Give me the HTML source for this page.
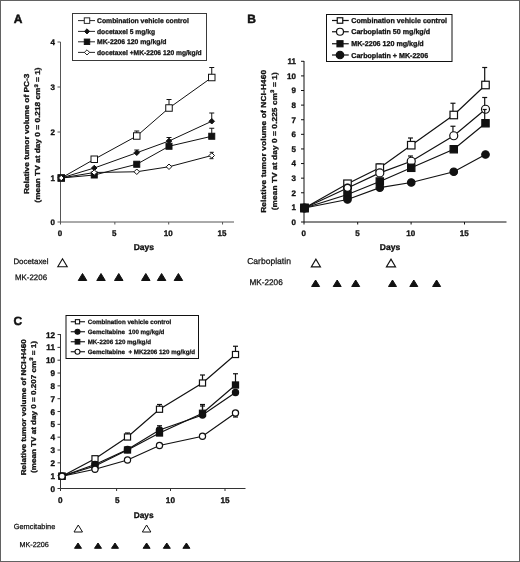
<!DOCTYPE html>
<html><head><meta charset="utf-8"><title>Figure</title>
<style>html,body{margin:0;padding:0;background:#fff}svg{display:block}text{font-family:"Liberation Sans",sans-serif;fill:#111;text-rendering:geometricPrecision}</style>
</head><body>
<svg width="520" height="562" viewBox="0 0 520 562">
<rect x="0" y="0" width="520" height="562" fill="#fff"/>
<rect x="0.5" y="0.5" width="519" height="561" fill="none" stroke="#626262" stroke-width="1"/>
<text x="13.7" y="22.8" font-size="12" font-weight="bold" text-anchor="start" stroke="#111" stroke-width="0.48">A</text>
<line x1="60.5" y1="42" x2="60.5" y2="222" stroke="#555" stroke-width="1"/>
<line x1="60.5" y1="222" x2="234" y2="222" stroke="#555" stroke-width="1"/>
<line x1="57.5" y1="222" x2="60.5" y2="222" stroke="#555" stroke-width="1"/>
<text x="55" y="224.9" font-size="8" font-weight="bold" text-anchor="end" stroke="#111" stroke-width="0.32">0</text>
<line x1="57.5" y1="177.7" x2="60.5" y2="177.7" stroke="#555" stroke-width="1"/>
<text x="55" y="180.6" font-size="8" font-weight="bold" text-anchor="end" stroke="#111" stroke-width="0.32">1</text>
<line x1="57.5" y1="132" x2="60.5" y2="132" stroke="#555" stroke-width="1"/>
<text x="55" y="134.9" font-size="8" font-weight="bold" text-anchor="end" stroke="#111" stroke-width="0.32">2</text>
<line x1="57.5" y1="87" x2="60.5" y2="87" stroke="#555" stroke-width="1"/>
<text x="55" y="89.9" font-size="8" font-weight="bold" text-anchor="end" stroke="#111" stroke-width="0.32">3</text>
<line x1="57.5" y1="42" x2="60.5" y2="42" stroke="#555" stroke-width="1"/>
<text x="55" y="44.9" font-size="8" font-weight="bold" text-anchor="end" stroke="#111" stroke-width="0.32">4</text>
<line x1="60.5" y1="222" x2="60.5" y2="224.5" stroke="#555" stroke-width="1"/>
<text x="60.0" y="236" font-size="8" font-weight="bold" text-anchor="middle" stroke="#111" stroke-width="0.32">0</text>
<line x1="114.85" y1="222" x2="114.85" y2="224.5" stroke="#555" stroke-width="1"/>
<text x="114.35" y="236" font-size="8" font-weight="bold" text-anchor="middle" stroke="#111" stroke-width="0.32">5</text>
<line x1="168.7" y1="222" x2="168.7" y2="224.5" stroke="#555" stroke-width="1"/>
<text x="168.2" y="236" font-size="8" font-weight="bold" text-anchor="middle" stroke="#111" stroke-width="0.32">10</text>
<line x1="222.54999999999998" y1="222" x2="222.54999999999998" y2="224.5" stroke="#555" stroke-width="1"/>
<text x="222.04999999999998" y="236" font-size="8" font-weight="bold" text-anchor="middle" stroke="#111" stroke-width="0.32">15</text>
<text x="143.9" y="250.2" font-size="8.5" font-weight="bold" text-anchor="middle" stroke="#111" stroke-width="0.34">Days</text>
<text transform="translate(29.4,133.8) rotate(-90) scale(1,0.87)" font-size="8.3" font-weight="bold" stroke="#111" stroke-width="0.35" textLength="120.5" lengthAdjust="spacing" text-anchor="middle">Relative tumor volume of PC-3</text>
<text transform="translate(40.4,135) rotate(-90) scale(1,0.87)" font-size="8.3" font-weight="bold" stroke="#111" stroke-width="0.35" text-anchor="middle">(mean TV at day 0 = 0.218 cm<tspan dy="-3" font-size="6">3</tspan><tspan dy="3"> = 1)</tspan></text>
<line x1="136.75" y1="136" x2="136.75" y2="131" stroke="#111" stroke-width="1"/>
<line x1="134.25" y1="131" x2="139.25" y2="131" stroke="#111" stroke-width="1"/>
<line x1="169" y1="108" x2="169" y2="99.5" stroke="#111" stroke-width="1"/>
<line x1="166.5" y1="99.5" x2="171.5" y2="99.5" stroke="#111" stroke-width="1"/>
<line x1="211.75" y1="77.5" x2="211.75" y2="67.5" stroke="#111" stroke-width="1"/>
<line x1="209.25" y1="67.5" x2="214.25" y2="67.5" stroke="#111" stroke-width="1"/>
<polyline points="61.25,178 94.25,159.25 136.75,136 169,108 211.75,77.5" fill="none" stroke="#111" stroke-width="1"/>
<rect x="58.0" y="174.75" width="6.5" height="6.5" fill="#fff" stroke="#111" stroke-width="1"/>
<rect x="91.0" y="156.0" width="6.5" height="6.5" fill="#fff" stroke="#111" stroke-width="1"/>
<rect x="133.5" y="132.75" width="6.5" height="6.5" fill="#fff" stroke="#111" stroke-width="1"/>
<rect x="165.75" y="104.75" width="6.5" height="6.5" fill="#fff" stroke="#111" stroke-width="1"/>
<rect x="208.5" y="74.25" width="6.5" height="6.5" fill="#fff" stroke="#111" stroke-width="1"/>
<line x1="136.75" y1="152.75" x2="136.75" y2="150" stroke="#111" stroke-width="1"/>
<line x1="134.25" y1="150" x2="139.25" y2="150" stroke="#111" stroke-width="1"/>
<line x1="169" y1="141" x2="169" y2="137.5" stroke="#111" stroke-width="1"/>
<line x1="166.5" y1="137.5" x2="171.5" y2="137.5" stroke="#111" stroke-width="1"/>
<line x1="211.75" y1="121.25" x2="211.75" y2="113" stroke="#111" stroke-width="1"/>
<line x1="209.25" y1="113" x2="214.25" y2="113" stroke="#111" stroke-width="1"/>
<polyline points="61.25,178 94.25,168 136.75,152.75 169,141 211.75,121.25" fill="none" stroke="#111" stroke-width="1"/>
<polygon points="58.5,178 61.25,175.25 64.0,178 61.25,180.75" fill="#111" stroke="#111" stroke-width="1"/>
<polygon points="91.5,168 94.25,165.25 97.0,168 94.25,170.75" fill="#111" stroke="#111" stroke-width="1"/>
<polygon points="134.0,152.75 136.75,150.0 139.5,152.75 136.75,155.5" fill="#111" stroke="#111" stroke-width="1"/>
<polygon points="166.25,141 169,138.25 171.75,141 169,143.75" fill="#111" stroke="#111" stroke-width="1"/>
<polygon points="209.0,121.25 211.75,118.5 214.5,121.25 211.75,124.0" fill="#111" stroke="#111" stroke-width="1"/>
<line x1="211.75" y1="136.25" x2="211.75" y2="128.25" stroke="#111" stroke-width="1"/>
<line x1="209.25" y1="128.25" x2="214.25" y2="128.25" stroke="#111" stroke-width="1"/>
<polyline points="61.25,178 94.25,175 136.75,164.25 169,146.25 211.75,136.25" fill="none" stroke="#111" stroke-width="1"/>
<rect x="58.25" y="175.0" width="6" height="6" fill="#111" stroke="#111" stroke-width="1"/>
<rect x="91.25" y="172.0" width="6" height="6" fill="#111" stroke="#111" stroke-width="1"/>
<rect x="133.75" y="161.25" width="6" height="6" fill="#111" stroke="#111" stroke-width="1"/>
<rect x="166.0" y="143.25" width="6" height="6" fill="#111" stroke="#111" stroke-width="1"/>
<rect x="208.75" y="133.25" width="6" height="6" fill="#111" stroke="#111" stroke-width="1"/>
<line x1="211.75" y1="155.5" x2="211.75" y2="152.3" stroke="#111" stroke-width="1"/>
<line x1="209.75" y1="152.3" x2="213.75" y2="152.3" stroke="#111" stroke-width="1"/>
<polyline points="61.25,178 94.25,172.5 136.75,171.75 169,166.75 211.75,155.5" fill="none" stroke="#111" stroke-width="1"/>
<polygon points="58.5,178 61.25,175.25 64.0,178 61.25,180.75" fill="#fff" stroke="#111" stroke-width="1"/>
<polygon points="91.5,172.5 94.25,169.75 97.0,172.5 94.25,175.25" fill="#fff" stroke="#111" stroke-width="1"/>
<polygon points="134.0,171.75 136.75,169.0 139.5,171.75 136.75,174.5" fill="#fff" stroke="#111" stroke-width="1"/>
<polygon points="166.25,166.75 169,164.0 171.75,166.75 169,169.5" fill="#fff" stroke="#111" stroke-width="1"/>
<polygon points="209.0,155.5 211.75,152.75 214.5,155.5 211.75,158.25" fill="#fff" stroke="#111" stroke-width="1"/>
<line x1="209.5" y1="158.7" x2="213.5" y2="158.7" stroke="#111" stroke-width="1"/>
<rect x="72.5" y="13.5" width="134.0" height="47.0" fill="#fff" stroke="#3a3a3a" stroke-width="1"/>
<line x1="78" y1="20.6" x2="95" y2="20.6" stroke="#111" stroke-width="0.9"/>
<rect x="84.25" y="17.85" width="5.5" height="5.5" fill="#fff" stroke="#111" stroke-width="0.9"/>
<text x="97" y="23.0588" font-size="6.83" font-weight="bold" text-anchor="start" stroke="#111" stroke-width="0.27">Combination vehicle control</text>
<line x1="78" y1="31.4" x2="95" y2="31.4" stroke="#111" stroke-width="0.9"/>
<polygon points="84.4,31.4 87,28.799999999999997 89.6,31.4 87,34.0" fill="#111" stroke="#111" stroke-width="0.9"/>
<text x="97" y="33.8588" font-size="6.83" font-weight="bold" text-anchor="start" textLength="58" lengthAdjust="spacingAndGlyphs" stroke="#111" stroke-width="0.27">docetaxel 5 mg/kg</text>
<line x1="78" y1="41.8" x2="95" y2="41.8" stroke="#111" stroke-width="0.9"/>
<rect x="84.25" y="39.05" width="5.5" height="5.5" fill="#111" stroke="#111" stroke-width="0.9"/>
<text x="97" y="44.258799999999994" font-size="6.83" font-weight="bold" text-anchor="start" stroke="#111" stroke-width="0.27">MK-2206 120 mg/kg/d</text>
<line x1="78" y1="52.4" x2="95" y2="52.4" stroke="#111" stroke-width="0.9"/>
<polygon points="84.4,52.4 87,49.8 89.6,52.4 87,55.0" fill="#fff" stroke="#111" stroke-width="0.9"/>
<text x="97" y="54.8588" font-size="6.83" font-weight="bold" text-anchor="start" textLength="104.6" lengthAdjust="spacingAndGlyphs" stroke="#111" stroke-width="0.27">docetaxel +MK-2206 120 mg/kg/d</text>
<text x="13.4" y="264" font-size="7.9" text-anchor="start" stroke="#111" stroke-width="0.25">Docetaxel</text>
<text x="15" y="280.3" font-size="7.9" text-anchor="start" stroke="#111" stroke-width="0.25">MK-2206</text>
<polygon points="57.75,266.8 62.5,258.8 67.25,266.8" fill="#fff" stroke="#111" stroke-width="1.1" stroke-linejoin="miter"/>
<polygon points="78.25,280.5 82.5,273.5 86.75,280.5" fill="#111" stroke="#111" stroke-width="1" stroke-linejoin="miter"/>
<polygon points="96.75,280.5 101,273.5 105.25,280.5" fill="#111" stroke="#111" stroke-width="1" stroke-linejoin="miter"/>
<polygon points="114.5,280.5 118.75,273.5 123.0,280.5" fill="#111" stroke="#111" stroke-width="1" stroke-linejoin="miter"/>
<polygon points="141.55,280.5 145.8,273.5 150.05,280.5" fill="#111" stroke="#111" stroke-width="1" stroke-linejoin="miter"/>
<polygon points="157.35,280.5 161.6,273.5 165.85,280.5" fill="#111" stroke="#111" stroke-width="1" stroke-linejoin="miter"/>
<polygon points="174.15,280.5 178.4,273.5 182.65,280.5" fill="#111" stroke="#111" stroke-width="1" stroke-linejoin="miter"/>
<text x="247.3" y="22.8" font-size="12" font-weight="bold" text-anchor="start" stroke="#111" stroke-width="0.48">B</text>
<line x1="304" y1="61" x2="304" y2="222" stroke="#111" stroke-width="1"/>
<line x1="304" y1="222" x2="506.5" y2="222" stroke="#111" stroke-width="1"/>
<line x1="301" y1="222.0" x2="304" y2="222.0" stroke="#111" stroke-width="1"/>
<text x="296" y="224.9" font-size="8" font-weight="bold" text-anchor="end" stroke="#111" stroke-width="0.32">0</text>
<line x1="301" y1="207.39" x2="304" y2="207.39" stroke="#111" stroke-width="1"/>
<text x="296" y="210.29" font-size="8" font-weight="bold" text-anchor="end" stroke="#111" stroke-width="0.32">1</text>
<line x1="301" y1="192.78" x2="304" y2="192.78" stroke="#111" stroke-width="1"/>
<text x="296" y="195.68" font-size="8" font-weight="bold" text-anchor="end" stroke="#111" stroke-width="0.32">2</text>
<line x1="301" y1="178.17000000000002" x2="304" y2="178.17000000000002" stroke="#111" stroke-width="1"/>
<text x="296" y="181.07000000000002" font-size="8" font-weight="bold" text-anchor="end" stroke="#111" stroke-width="0.32">3</text>
<line x1="301" y1="163.56" x2="304" y2="163.56" stroke="#111" stroke-width="1"/>
<text x="296" y="166.46" font-size="8" font-weight="bold" text-anchor="end" stroke="#111" stroke-width="0.32">4</text>
<line x1="301" y1="148.95" x2="304" y2="148.95" stroke="#111" stroke-width="1"/>
<text x="296" y="151.85" font-size="8" font-weight="bold" text-anchor="end" stroke="#111" stroke-width="0.32">5</text>
<line x1="301" y1="134.34" x2="304" y2="134.34" stroke="#111" stroke-width="1"/>
<text x="296" y="137.24" font-size="8" font-weight="bold" text-anchor="end" stroke="#111" stroke-width="0.32">6</text>
<line x1="301" y1="119.73" x2="304" y2="119.73" stroke="#111" stroke-width="1"/>
<text x="296" y="122.63000000000001" font-size="8" font-weight="bold" text-anchor="end" stroke="#111" stroke-width="0.32">7</text>
<line x1="301" y1="105.12" x2="304" y2="105.12" stroke="#111" stroke-width="1"/>
<text x="296" y="108.02000000000001" font-size="8" font-weight="bold" text-anchor="end" stroke="#111" stroke-width="0.32">8</text>
<line x1="301" y1="90.50999999999999" x2="304" y2="90.50999999999999" stroke="#111" stroke-width="1"/>
<text x="296" y="93.41" font-size="8" font-weight="bold" text-anchor="end" stroke="#111" stroke-width="0.32">9</text>
<line x1="301" y1="75.9" x2="304" y2="75.9" stroke="#111" stroke-width="1"/>
<text x="296" y="78.80000000000001" font-size="8" font-weight="bold" text-anchor="end" stroke="#111" stroke-width="0.32">10</text>
<line x1="301" y1="61.29000000000002" x2="304" y2="61.29000000000002" stroke="#111" stroke-width="1"/>
<text x="296" y="64.19000000000003" font-size="8" font-weight="bold" text-anchor="end" stroke="#111" stroke-width="0.32">11</text>
<line x1="304" y1="222" x2="304" y2="224.5" stroke="#111" stroke-width="1"/>
<text x="303.7" y="236" font-size="8" font-weight="bold" text-anchor="middle" stroke="#111" stroke-width="0.32">0</text>
<line x1="357.7" y1="222" x2="357.7" y2="224.5" stroke="#111" stroke-width="1"/>
<text x="357.4" y="236" font-size="8" font-weight="bold" text-anchor="middle" stroke="#111" stroke-width="0.32">5</text>
<line x1="411.1" y1="222" x2="411.1" y2="224.5" stroke="#111" stroke-width="1"/>
<text x="410.8" y="236" font-size="8" font-weight="bold" text-anchor="middle" stroke="#111" stroke-width="0.32">10</text>
<line x1="464.5" y1="222" x2="464.5" y2="224.5" stroke="#111" stroke-width="1"/>
<text x="464.2" y="236" font-size="8" font-weight="bold" text-anchor="middle" stroke="#111" stroke-width="0.32">15</text>
<text x="390" y="250.4" font-size="8.5" font-weight="bold" text-anchor="middle" stroke="#111" stroke-width="0.34">Days</text>
<text transform="translate(266,141.3) rotate(-90) scale(1,0.87)" font-size="8.3" font-weight="bold" stroke="#111" stroke-width="0.35" textLength="143" lengthAdjust="spacing" text-anchor="middle">Relative tumor volume of NCI-H460</text>
<text transform="translate(276.5,141.3) rotate(-90) scale(1,0.87)" font-size="8.3" font-weight="bold" stroke="#111" stroke-width="0.35" textLength="138" lengthAdjust="spacing" text-anchor="middle">(mean TV at day 0 = 0.225 cm<tspan dy="-3" font-size="6">3</tspan><tspan dy="3"> = 1)</tspan></text>
<line x1="379.0" y1="167.7" x2="379.0" y2="164" stroke="#111" stroke-width="1.2"/>
<line x1="376.5" y1="164" x2="381.5" y2="164" stroke="#111" stroke-width="1.2"/>
<line x1="410.45" y1="145.2" x2="410.45" y2="138" stroke="#111" stroke-width="1.2"/>
<line x1="407.95" y1="138" x2="412.95" y2="138" stroke="#111" stroke-width="1.2"/>
<line x1="452.95" y1="115" x2="452.95" y2="103.25" stroke="#111" stroke-width="1.2"/>
<line x1="450.45" y1="103.25" x2="455.45" y2="103.25" stroke="#111" stroke-width="1.2"/>
<line x1="484.7" y1="85" x2="484.7" y2="67.5" stroke="#111" stroke-width="1.2"/>
<line x1="482.2" y1="67.5" x2="487.2" y2="67.5" stroke="#111" stroke-width="1.2"/>
<polyline points="304.5,208 347.5,183.75 379.8,167.7 411.25,145.2 453.75,115 485.5,85" fill="none" stroke="#111" stroke-width="1.2"/>
<rect x="300.75" y="204.25" width="7.5" height="7.5" fill="#fff" stroke="#111" stroke-width="1.2"/>
<rect x="343.75" y="180.0" width="7.5" height="7.5" fill="#fff" stroke="#111" stroke-width="1.2"/>
<rect x="376.05" y="163.95" width="7.5" height="7.5" fill="#fff" stroke="#111" stroke-width="1.2"/>
<rect x="407.5" y="141.45" width="7.5" height="7.5" fill="#fff" stroke="#111" stroke-width="1.2"/>
<rect x="450.0" y="111.25" width="7.5" height="7.5" fill="#fff" stroke="#111" stroke-width="1.2"/>
<rect x="481.75" y="81.25" width="7.5" height="7.5" fill="#fff" stroke="#111" stroke-width="1.2"/>
<line x1="410.45" y1="161.25" x2="410.45" y2="156" stroke="#111" stroke-width="1.2"/>
<line x1="407.95" y1="156" x2="412.95" y2="156" stroke="#111" stroke-width="1.2"/>
<line x1="452.95" y1="135.75" x2="452.95" y2="126.25" stroke="#111" stroke-width="1.2"/>
<line x1="450.45" y1="126.25" x2="455.45" y2="126.25" stroke="#111" stroke-width="1.2"/>
<line x1="484.7" y1="109.25" x2="484.7" y2="97.5" stroke="#111" stroke-width="1.2"/>
<line x1="482.2" y1="97.5" x2="487.2" y2="97.5" stroke="#111" stroke-width="1.2"/>
<polyline points="304.5,208 347.5,188 379.8,172.9 411.25,161.25 453.75,135.75 485.5,109.25" fill="none" stroke="#111" stroke-width="1.2"/>
<circle cx="304.5" cy="208" r="4.0" fill="#fff" stroke="#111" stroke-width="1.2"/>
<circle cx="347.5" cy="188" r="4.0" fill="#fff" stroke="#111" stroke-width="1.2"/>
<circle cx="379.8" cy="172.9" r="4.0" fill="#fff" stroke="#111" stroke-width="1.2"/>
<circle cx="411.25" cy="161.25" r="4.0" fill="#fff" stroke="#111" stroke-width="1.2"/>
<circle cx="453.75" cy="135.75" r="4.0" fill="#fff" stroke="#111" stroke-width="1.2"/>
<circle cx="485.5" cy="109.25" r="4.0" fill="#fff" stroke="#111" stroke-width="1.2"/>
<line x1="484.7" y1="123.25" x2="484.7" y2="109.5" stroke="#111" stroke-width="1.2"/>
<line x1="482.7" y1="109.5" x2="486.7" y2="109.5" stroke="#111" stroke-width="1.2"/>
<polyline points="304.5,208 347.5,194.5 379.8,181.5 411.25,167.8 453.75,149.25 485.5,123.25" fill="none" stroke="#111" stroke-width="1.2"/>
<rect x="300.85" y="204.35" width="7.3" height="7.3" fill="#111" stroke="#111" stroke-width="1.2"/>
<rect x="343.85" y="190.85" width="7.3" height="7.3" fill="#111" stroke="#111" stroke-width="1.2"/>
<rect x="376.15000000000003" y="177.85" width="7.3" height="7.3" fill="#111" stroke="#111" stroke-width="1.2"/>
<rect x="407.6" y="164.15" width="7.3" height="7.3" fill="#111" stroke="#111" stroke-width="1.2"/>
<rect x="450.1" y="145.6" width="7.3" height="7.3" fill="#111" stroke="#111" stroke-width="1.2"/>
<rect x="481.85" y="119.6" width="7.3" height="7.3" fill="#111" stroke="#111" stroke-width="1.2"/>
<polyline points="304.5,208 347.5,199.5 379.8,187.6 411.25,182.5 453.75,171.75 485.5,154.5" fill="none" stroke="#111" stroke-width="1.2"/>
<circle cx="304.5" cy="208" r="3.75" fill="#111" stroke="#111" stroke-width="1.2"/>
<circle cx="347.5" cy="199.5" r="3.75" fill="#111" stroke="#111" stroke-width="1.2"/>
<circle cx="379.8" cy="187.6" r="3.75" fill="#111" stroke="#111" stroke-width="1.2"/>
<circle cx="411.25" cy="182.5" r="3.75" fill="#111" stroke="#111" stroke-width="1.2"/>
<circle cx="453.75" cy="171.75" r="3.75" fill="#111" stroke="#111" stroke-width="1.2"/>
<circle cx="485.5" cy="154.5" r="3.75" fill="#111" stroke="#111" stroke-width="1.2"/>
<circle cx="347.5" cy="187.8" r="3.5" fill="#fff" stroke="#111" stroke-width="1.2"/>
<rect x="326.5" y="14.5" width="125.5" height="47.0" fill="#fff" stroke="#111" stroke-width="1"/>
<line x1="332" y1="20.5" x2="348.75" y2="20.5" stroke="#111" stroke-width="1.2"/>
<rect x="337.25" y="17.75" width="5.5" height="5.5" fill="#fff" stroke="#111" stroke-width="1.2"/>
<text x="351.25" y="23.0668" font-size="7.13" font-weight="bold" text-anchor="start" stroke="#111" stroke-width="0.29">Combination vehicle control</text>
<line x1="332" y1="31.75" x2="348.75" y2="31.75" stroke="#111" stroke-width="1.2"/>
<circle cx="340" cy="31.75" r="3.5" fill="#fff" stroke="#111" stroke-width="1.2"/>
<text x="351.25" y="34.3168" font-size="7.13" font-weight="bold" text-anchor="start" stroke="#111" stroke-width="0.29">Carboplatin 50 mg/kg/d</text>
<line x1="332" y1="43.75" x2="348.75" y2="43.75" stroke="#111" stroke-width="1.2"/>
<rect x="337.0" y="40.75" width="6" height="6" fill="#111" stroke="#111" stroke-width="1.2"/>
<text x="351.25" y="46.3168" font-size="7.13" font-weight="bold" text-anchor="start" stroke="#111" stroke-width="0.29">MK-2206 120 mg/kg/d</text>
<line x1="332" y1="55" x2="348.75" y2="55" stroke="#111" stroke-width="1.2"/>
<circle cx="340" cy="55" r="3.75" fill="#111" stroke="#111" stroke-width="1.2"/>
<text x="351.25" y="57.5668" font-size="7.13" font-weight="bold" text-anchor="start" stroke="#111" stroke-width="0.29">Carboplatin + MK-2206</text>
<text x="247.2" y="264" font-size="8.55" text-anchor="start" stroke="#111" stroke-width="0.25">Carboplatin</text>
<text x="249.5" y="285" font-size="8.2" text-anchor="start" stroke="#111" stroke-width="0.25">MK-2206</text>
<polygon points="311.4,266.8 315.9,259.2 320.4,266.8" fill="#fff" stroke="#111" stroke-width="1.2" stroke-linejoin="miter"/>
<polygon points="386.5,266.8 391,259.2 395.5,266.8" fill="#fff" stroke="#111" stroke-width="1.2" stroke-linejoin="miter"/>
<polygon points="311.6,286.5 315.6,280 319.6,286.5" fill="#111" stroke="#111" stroke-width="1" stroke-linejoin="miter"/>
<polygon points="333.2,286.5 337.2,280 341.2,286.5" fill="#111" stroke="#111" stroke-width="1" stroke-linejoin="miter"/>
<polygon points="351.7,286.5 355.7,280 359.7,286.5" fill="#111" stroke="#111" stroke-width="1" stroke-linejoin="miter"/>
<polygon points="388.5,286.5 392.5,280 396.5,286.5" fill="#111" stroke="#111" stroke-width="1" stroke-linejoin="miter"/>
<polygon points="409.8,286.5 413.8,280 417.8,286.5" fill="#111" stroke="#111" stroke-width="1" stroke-linejoin="miter"/>
<polygon points="432.6,286.5 436.6,280 440.6,286.5" fill="#111" stroke="#111" stroke-width="1" stroke-linejoin="miter"/>
<text x="13.6" y="325.3" font-size="12" font-weight="bold" text-anchor="start" stroke="#111" stroke-width="0.48">C</text>
<line x1="60.5" y1="334" x2="60.5" y2="488.5" stroke="#333" stroke-width="1"/>
<line x1="60.5" y1="488.5" x2="245.5" y2="488.5" stroke="#333" stroke-width="1"/>
<line x1="57.5" y1="488.5" x2="60.5" y2="488.5" stroke="#333" stroke-width="1"/>
<text x="55" y="491.5" font-size="8.2" font-weight="bold" text-anchor="end" stroke="#111" stroke-width="0.33">0</text>
<line x1="57.5" y1="475.67" x2="60.5" y2="475.67" stroke="#333" stroke-width="1"/>
<text x="55" y="478.67" font-size="8.2" font-weight="bold" text-anchor="end" stroke="#111" stroke-width="0.33">1</text>
<line x1="57.5" y1="462.84" x2="60.5" y2="462.84" stroke="#333" stroke-width="1"/>
<text x="55" y="465.84" font-size="8.2" font-weight="bold" text-anchor="end" stroke="#111" stroke-width="0.33">2</text>
<line x1="57.5" y1="450.01" x2="60.5" y2="450.01" stroke="#333" stroke-width="1"/>
<text x="55" y="453.01" font-size="8.2" font-weight="bold" text-anchor="end" stroke="#111" stroke-width="0.33">3</text>
<line x1="57.5" y1="437.18" x2="60.5" y2="437.18" stroke="#333" stroke-width="1"/>
<text x="55" y="440.18" font-size="8.2" font-weight="bold" text-anchor="end" stroke="#111" stroke-width="0.33">4</text>
<line x1="57.5" y1="424.35" x2="60.5" y2="424.35" stroke="#333" stroke-width="1"/>
<text x="55" y="427.35" font-size="8.2" font-weight="bold" text-anchor="end" stroke="#111" stroke-width="0.33">5</text>
<line x1="57.5" y1="411.52" x2="60.5" y2="411.52" stroke="#333" stroke-width="1"/>
<text x="55" y="414.52" font-size="8.2" font-weight="bold" text-anchor="end" stroke="#111" stroke-width="0.33">6</text>
<line x1="57.5" y1="398.69" x2="60.5" y2="398.69" stroke="#333" stroke-width="1"/>
<text x="55" y="401.69" font-size="8.2" font-weight="bold" text-anchor="end" stroke="#111" stroke-width="0.33">7</text>
<line x1="57.5" y1="385.86" x2="60.5" y2="385.86" stroke="#333" stroke-width="1"/>
<text x="55" y="388.86" font-size="8.2" font-weight="bold" text-anchor="end" stroke="#111" stroke-width="0.33">8</text>
<line x1="57.5" y1="373.03" x2="60.5" y2="373.03" stroke="#333" stroke-width="1"/>
<text x="55" y="376.03" font-size="8.2" font-weight="bold" text-anchor="end" stroke="#111" stroke-width="0.33">9</text>
<line x1="57.5" y1="360.2" x2="60.5" y2="360.2" stroke="#333" stroke-width="1"/>
<text x="55" y="363.2" font-size="8.2" font-weight="bold" text-anchor="end" stroke="#111" stroke-width="0.33">10</text>
<line x1="57.5" y1="347.37" x2="60.5" y2="347.37" stroke="#333" stroke-width="1"/>
<text x="55" y="350.37" font-size="8.2" font-weight="bold" text-anchor="end" stroke="#111" stroke-width="0.33">11</text>
<line x1="57.5" y1="334.53999999999996" x2="60.5" y2="334.53999999999996" stroke="#333" stroke-width="1"/>
<text x="55" y="337.53999999999996" font-size="8.2" font-weight="bold" text-anchor="end" stroke="#111" stroke-width="0.33">12</text>
<line x1="60.5" y1="488.5" x2="60.5" y2="491.0" stroke="#333" stroke-width="1"/>
<text x="60.4" y="503.2" font-size="8.2" font-weight="bold" text-anchor="middle" stroke="#111" stroke-width="0.33">0</text>
<line x1="116.6" y1="488.5" x2="116.6" y2="491.0" stroke="#333" stroke-width="1"/>
<text x="117.2" y="503.2" font-size="8.2" font-weight="bold" text-anchor="middle" stroke="#111" stroke-width="0.33">5</text>
<line x1="170.5" y1="488.5" x2="170.5" y2="491.0" stroke="#333" stroke-width="1"/>
<text x="170.4" y="503.2" font-size="8.2" font-weight="bold" text-anchor="middle" stroke="#111" stroke-width="0.33">10</text>
<line x1="225" y1="488.5" x2="225" y2="491.0" stroke="#333" stroke-width="1"/>
<text x="225" y="503.2" font-size="8.2" font-weight="bold" text-anchor="middle" stroke="#111" stroke-width="0.33">15</text>
<text x="143.7" y="518.3" font-size="8.3" font-weight="bold" text-anchor="middle" stroke="#111" stroke-width="0.33">Days</text>
<text transform="translate(25.9,407.3) rotate(-90) scale(1,0.87)" font-size="8.1" font-weight="bold" stroke="#111" stroke-width="0.35" textLength="136" lengthAdjust="spacing" text-anchor="middle">Relative tumor volume of NCI-H460</text>
<text transform="translate(35.7,407) rotate(-90) scale(1,0.87)" font-size="8.1" font-weight="bold" stroke="#111" stroke-width="0.35" textLength="132" lengthAdjust="spacing" text-anchor="middle">(mean TV at day 0 = 0.207 cm<tspan dy="-3" font-size="6">3</tspan><tspan dy="3"> = 1)</tspan></text>
<line x1="127.5" y1="437" x2="127.5" y2="433" stroke="#111" stroke-width="1.2"/>
<line x1="125.0" y1="433" x2="130.0" y2="433" stroke="#111" stroke-width="1.2"/>
<line x1="159.5" y1="409.25" x2="159.5" y2="404.5" stroke="#111" stroke-width="1.2"/>
<line x1="157.0" y1="404.5" x2="162.0" y2="404.5" stroke="#111" stroke-width="1.2"/>
<line x1="202.5" y1="383" x2="202.5" y2="375" stroke="#111" stroke-width="1.2"/>
<line x1="200.0" y1="375" x2="205.0" y2="375" stroke="#111" stroke-width="1.2"/>
<line x1="235.5" y1="354.5" x2="235.5" y2="346.25" stroke="#111" stroke-width="1.2"/>
<line x1="233.0" y1="346.25" x2="238.0" y2="346.25" stroke="#111" stroke-width="1.2"/>
<polyline points="62,476.25 95,458.75 127.5,437 159.5,409.25 202.5,383 235.5,354.5" fill="none" stroke="#111" stroke-width="1.2"/>
<rect x="58.95" y="473.2" width="6.1" height="6.1" fill="#fff" stroke="#111" stroke-width="1.2"/>
<rect x="91.95" y="455.7" width="6.1" height="6.1" fill="#fff" stroke="#111" stroke-width="1.2"/>
<rect x="124.45" y="433.95" width="6.1" height="6.1" fill="#fff" stroke="#111" stroke-width="1.2"/>
<rect x="156.45" y="406.2" width="6.1" height="6.1" fill="#fff" stroke="#111" stroke-width="1.2"/>
<rect x="199.45" y="379.95" width="6.1" height="6.1" fill="#fff" stroke="#111" stroke-width="1.2"/>
<rect x="232.45" y="351.45" width="6.1" height="6.1" fill="#fff" stroke="#111" stroke-width="1.2"/>
<line x1="202.5" y1="413.25" x2="202.5" y2="406" stroke="#111" stroke-width="1.2"/>
<line x1="200.0" y1="406" x2="205.0" y2="406" stroke="#111" stroke-width="1.2"/>
<line x1="235.5" y1="385" x2="235.5" y2="373.75" stroke="#111" stroke-width="1.2"/>
<line x1="233.0" y1="373.75" x2="238.0" y2="373.75" stroke="#111" stroke-width="1.2"/>
<polyline points="62,476.25 95,466 127.5,450 159.5,433 202.5,413.25 235.5,385" fill="none" stroke="#111" stroke-width="1.2"/>
<rect x="58.95" y="473.2" width="6.1" height="6.1" fill="#111" stroke="#111" stroke-width="1.2"/>
<rect x="91.95" y="462.95" width="6.1" height="6.1" fill="#111" stroke="#111" stroke-width="1.2"/>
<rect x="124.45" y="446.95" width="6.1" height="6.1" fill="#111" stroke="#111" stroke-width="1.2"/>
<rect x="156.45" y="429.95" width="6.1" height="6.1" fill="#111" stroke="#111" stroke-width="1.2"/>
<rect x="199.45" y="410.2" width="6.1" height="6.1" fill="#111" stroke="#111" stroke-width="1.2"/>
<rect x="232.45" y="381.95" width="6.1" height="6.1" fill="#111" stroke="#111" stroke-width="1.2"/>
<line x1="159.5" y1="430" x2="159.5" y2="425.75" stroke="#111" stroke-width="1.2"/>
<line x1="157.0" y1="425.75" x2="162.0" y2="425.75" stroke="#111" stroke-width="1.2"/>
<line x1="202.5" y1="415" x2="202.5" y2="404.5" stroke="#111" stroke-width="1.2"/>
<line x1="200.0" y1="404.5" x2="205.0" y2="404.5" stroke="#111" stroke-width="1.2"/>
<polyline points="62,476.25 95,464.5 127.5,449.5 159.5,430 202.5,415 235.5,392.5" fill="none" stroke="#111" stroke-width="1.2"/>
<circle cx="62" cy="476.25" r="3.1" fill="#111" stroke="#111" stroke-width="1.2"/>
<circle cx="95" cy="464.5" r="3.1" fill="#111" stroke="#111" stroke-width="1.2"/>
<circle cx="127.5" cy="449.5" r="3.1" fill="#111" stroke="#111" stroke-width="1.2"/>
<circle cx="159.5" cy="430" r="3.1" fill="#111" stroke="#111" stroke-width="1.2"/>
<circle cx="202.5" cy="415" r="3.1" fill="#111" stroke="#111" stroke-width="1.2"/>
<circle cx="235.5" cy="392.5" r="3.1" fill="#111" stroke="#111" stroke-width="1.2"/>
<line x1="235.5" y1="413" x2="235.5" y2="417" stroke="#111" stroke-width="1.2"/>
<line x1="233.0" y1="417" x2="238.0" y2="417" stroke="#111" stroke-width="1.2"/>
<polyline points="62,476.25 95,469.25 127.5,460 159.5,445.5 202.5,436.25 235.5,413" fill="none" stroke="#111" stroke-width="1.2"/>
<circle cx="62" cy="476.25" r="3.1" fill="#fff" stroke="#111" stroke-width="1.2"/>
<circle cx="95" cy="469.25" r="3.1" fill="#fff" stroke="#111" stroke-width="1.2"/>
<circle cx="127.5" cy="460" r="3.1" fill="#fff" stroke="#111" stroke-width="1.2"/>
<circle cx="159.5" cy="445.5" r="3.1" fill="#fff" stroke="#111" stroke-width="1.2"/>
<circle cx="202.5" cy="436.25" r="3.1" fill="#fff" stroke="#111" stroke-width="1.2"/>
<circle cx="235.5" cy="413" r="3.1" fill="#fff" stroke="#111" stroke-width="1.2"/>
<rect x="66" y="315.5" width="132.5" height="43.0" fill="#fff" stroke="#111" stroke-width="1"/>
<line x1="70.75" y1="321.75" x2="85" y2="321.75" stroke="#111" stroke-width="1.1"/>
<rect x="75.4" y="319.65" width="4.2" height="4.2" fill="#fff" stroke="#111" stroke-width="1.1"/>
<text x="87.7" y="323.9892" font-size="6.22" font-weight="bold" text-anchor="start" stroke="#111" stroke-width="0.25">Combination vehicle control</text>
<line x1="70.75" y1="331.75" x2="85" y2="331.75" stroke="#111" stroke-width="1.1"/>
<circle cx="77.5" cy="331.75" r="2.5" fill="#111" stroke="#111" stroke-width="1.1"/>
<text x="87.7" y="333.9892" font-size="6.22" font-weight="bold" text-anchor="start" stroke="#111" stroke-width="0.25">Gemcitabine&#160; 100 mg/kg/d</text>
<line x1="70.75" y1="341.75" x2="85" y2="341.75" stroke="#111" stroke-width="1.1"/>
<rect x="75.2" y="339.45" width="4.6" height="4.6" fill="#111" stroke="#111" stroke-width="1.1"/>
<text x="87.7" y="343.9892" font-size="6.22" font-weight="bold" text-anchor="start" stroke="#111" stroke-width="0.25">MK-2206 120 mg/kg/d</text>
<line x1="70.75" y1="351.75" x2="85" y2="351.75" stroke="#111" stroke-width="1.1"/>
<circle cx="77.5" cy="351.75" r="2.5" fill="#fff" stroke="#111" stroke-width="1.1"/>
<text x="87.7" y="353.9892" font-size="6.22" font-weight="bold" text-anchor="start" stroke="#111" stroke-width="0.25">Gemcitabine&#160; + MK2206 120 mg/kg/d</text>
<text x="13.75" y="529.4" font-size="7.4" text-anchor="start" stroke="#111" stroke-width="0.25">Gemcitabine</text>
<text x="19.5" y="547" font-size="7.2" text-anchor="start" stroke="#111" stroke-width="0.25">MK-2206</text>
<polygon points="74.0,532 78.25,525 82.5,532" fill="#fff" stroke="#111" stroke-width="1" stroke-linejoin="miter"/>
<polygon points="142.35,532 146.6,525 150.85,532" fill="#fff" stroke="#111" stroke-width="1" stroke-linejoin="miter"/>
<polygon points="74.5,548.3 78,543 81.5,548.3" fill="#111" stroke="#111" stroke-width="1" stroke-linejoin="miter"/>
<polygon points="94.5,548.3 98,543 101.5,548.3" fill="#111" stroke="#111" stroke-width="1" stroke-linejoin="miter"/>
<polygon points="111.5,548.3 115,543 118.5,548.3" fill="#111" stroke="#111" stroke-width="1" stroke-linejoin="miter"/>
<polygon points="143.1,548.3 146.6,543 150.1,548.3" fill="#111" stroke="#111" stroke-width="1" stroke-linejoin="miter"/>
<polygon points="163.3,548.3 166.8,543 170.3,548.3" fill="#111" stroke="#111" stroke-width="1" stroke-linejoin="miter"/>
<polygon points="182.9,548.3 186.4,543 189.9,548.3" fill="#111" stroke="#111" stroke-width="1" stroke-linejoin="miter"/>
</svg></body></html>
